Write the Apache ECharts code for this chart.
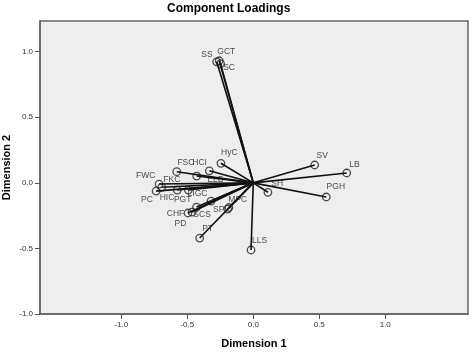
<!DOCTYPE html>
<html><head><meta charset="utf-8">
<script src="https://cdn.jsdelivr.net/npm/echarts@6/dist/echarts.min.js"></script>
<style>html,body{margin:0;padding:0;background:#fff}#c{width:474px;height:353px}</style>
</head><body><div id="c"></div>
<script>
// Data
const names = ['SS','GCT','SC','SV','LB','PGH','SH','LLS','HyC','HCI','ELB','FSC','FWC','FKC','PC','HIC','PGT','LIGC','SCS','CHF','PD','SP','MPC','PT'];
const dim1 = [-0.277,-0.258,-0.248,0.465,0.708,0.553,0.111,-0.017,-0.245,-0.429,-0.333,-0.580,-0.714,-0.694,-0.736,-0.576,-0.492,-0.320,-0.430,-0.495,-0.464,-0.194,-0.184,-0.406];
const dim2 = [0.923,0.931,0.909,0.136,0.075,-0.108,-0.072,-0.512,0.149,0.052,0.092,0.085,-0.009,-0.034,-0.063,-0.055,-0.055,-0.139,-0.185,-0.230,-0.223,-0.200,-0.188,-0.421];
const xTicks = [-1.0,-0.5,0.0,0.5,1.0];
const yTicks = [-1.0,-0.5,0.0,0.5,1.0];

// label placement (style): [dx, dy, align] relative to marker centre
const labelPlace = {
  SS:[-3.4,-6.7,'right'], GCT:[-1.3,-8,'left'], SC:[3.3,5,'left'],
  SV:[2.5,-9,'left'], LB:[3.3,-8,'left'], PGH:[1,-9.5,'left'], SH:[4,-8,'left'],
  LLS:[1.7,-8.5,'left'], HyC:[0.7,-9.6,'left'], HCI:[-3.7,-13,'left'], ELB:[-1.3,10,'left'],
  FSC:[1.3,-8,'left'], FWC:[-3,-7.5,'right'], FKC:[2.3,-7.3,'left'], PC:[-2.7,9,'right'],
  HIC:[-2.3,8.5,'right'], PGT:[-5,10,'center'], LIGC:[-3,-6.5,'right'], SCS:[-2.5,8,'left'],
  CHF:[-3,1,'right'], PD:[-5,12,'right'], SP:[-2.7,1,'right'], MPC:[0,-7.5,'left'], PT:[3.3,-8.5,'left']
};

const FONT = 'Arial, "Liberation Sans", sans-serif';
const symSize = 7.5;
const series = [];
names.forEach((n,i)=>{
  series.push({type:'line', data:[[0,0],[dim1[i],dim2[i]]], symbol:'none', silent:true,
    lineStyle:{color:'#111', width:1.6}, z:3});
});
series.push({
  type:'scatter', symbol:'circle', symbolSize:symSize, z:2,
  itemStyle:{color:'rgba(0,0,0,0)', borderColor:'#222', borderWidth:1.3},
  label:{show:true, formatter:'{b}', fontSize:8.5, color:'#1a1a1a', fontFamily:FONT, verticalAlign:'middle'},
  data: names.map((n,i)=>{
    const p = labelPlace[n] || [1.5,-8.5,'left'];
    return {name:n, value:[dim1[i],dim2[i]],
      label:{position:[symSize/2+p[0], symSize/2+p[1]], align:p[2], verticalAlign:'middle'}};
  })
});

const axisCommon = {
  type:'value', splitLine:{show:false},
  axisLine:{show:true, onZero:false, lineStyle:{color:'#666', width:1.5}},
  nameLocation:'middle', nameMoveOverlap:false,
  nameTextStyle:{fontWeight:'bold', fontSize:11, color:'#000', fontFamily:FONT}
};

const chart = echarts.init(document.getElementById('c'), null, {renderer:'canvas'});
chart.setOption({
  animation:false,
  backgroundColor:'#fff',
  title:{text:'Component Loadings', left:167, top:3, padding:0,
    textStyle:{fontSize:12, fontWeight:'bold', color:'#000', fontFamily:FONT}},
  grid:{left:40, top:21, right:6, bottom:39, containLabel:false, outerBoundsMode:'none',
    show:true, backgroundColor:'#EEEEEE', borderColor:'#666', borderWidth:1.5},
  xAxis:Object.assign({}, axisCommon, {
    min:-1.616, max:1.627, name:'Dimension 1', nameGap:24,
    axisTick:{show:true, customValues:xTicks, length:5, lineStyle:{color:'#555'}},
    axisLabel:{customValues:xTicks, formatter:v=>v.toFixed(1), fontSize:8, color:'#333', margin:7, fontFamily:FONT}
  }),
  yAxis:Object.assign({}, axisCommon, {
    min:-1.0, max:1.234, name:'Dimension 2', nameGap:28,
    axisTick:{show:true, customValues:yTicks, length:5, lineStyle:{color:'#555'}},
    axisLabel:{customValues:yTicks, formatter:v=>v.toFixed(1), fontSize:8, color:'#333', margin:7, fontFamily:FONT}
  }),
  series: series
});
</script>
</body></html>
